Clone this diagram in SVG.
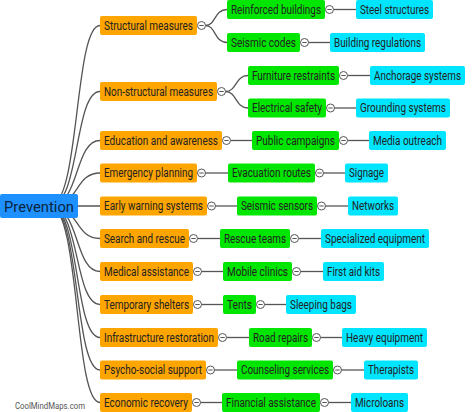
<svg xmlns="http://www.w3.org/2000/svg" width="474" height="412" viewBox="0 0 474 412">
<style>
text{font-family:Roboto,"Liberation Sans",sans-serif;font-size:12px;fill:#222;}
.r0{fill:#1E90FF;}
.r1{fill:#FFA500;}
.r2{fill:#00E600;}
.r3{fill:#00E5FF;}
.ln{fill:none;stroke:#555;stroke-width:1.3;}
.cc{fill:#fff;stroke:#555;stroke-width:1;}
.mn{stroke:#555;stroke-width:1;}
.root{font-size:15px;fill:#0a2540;}
.wm{font-size:9.5px;fill:#555;}
</style>
<defs>
<g id="col"><circle class="cc" r="4"/><line class="mn" x1="-2.2" y1="0" x2="2.2" y2="0"/></g>
</defs>
<g id="connectors">
<path class="ln" d="M50 206C80 206 74 25.5 100 25.5"/>
<path class="ln" d="M50 206C80 206 74 91.5 100 91.5"/>
<path class="ln" d="M50 206C80 206 74 140.5 100 140.5"/>
<path class="ln" d="M50 206C80 206 74 173 100 173"/>
<path class="ln" d="M50 206L100 206"/>
<path class="ln" d="M50 206C80 206 74 238.5 100 238.5"/>
<path class="ln" d="M50 206C80 206 74 271.5 100 271.5"/>
<path class="ln" d="M50 206C80 206 74 304.5 100 304.5"/>
<path class="ln" d="M50 206C80 206 74 337.5 100 337.5"/>
<path class="ln" d="M50 206C80 206 74 370 100 370"/>
<path class="ln" d="M50 206C80 206 74 402.5 100 402.5"/>
<path class="ln" d="M205.5 25.5C216 25.5 214 9.5 227 9.5"/>
<path class="ln" d="M205.5 25.5C216 25.5 214 42.5 227 42.5"/>
<path class="ln" d="M225.5 91.5C237 91.5 235 75.5 248 75.5"/>
<path class="ln" d="M225.5 91.5C237 91.5 235 108 248 108"/>
<path class="ln" d="M230.5 140.5H252"/>
<path class="ln" d="M205.5 173H228"/>
<path class="ln" d="M215.5 206H237"/>
<path class="ln" d="M197.5 238.5H220"/>
<path class="ln" d="M201.5 271.5H223"/>
<path class="ln" d="M201.5 304.5H223"/>
<path class="ln" d="M226.5 337.5H249"/>
<path class="ln" d="M214.5 370H237"/>
<path class="ln" d="M200.5 402.5H222"/>
<path class="ln" d="M333.5 9.5H356"/>
<path class="ln" d="M308.5 42.5H330"/>
<path class="ln" d="M347.5 75.5H370"/>
<path class="ln" d="M334.5 108H356"/>
<path class="ln" d="M347.5 140.5H369"/>
<path class="ln" d="M323.5 173H345"/>
<path class="ln" d="M325.5 206H348"/>
<path class="ln" d="M298.5 238.5H321"/>
<path class="ln" d="M300.5 271.5H323"/>
<path class="ln" d="M264.5 304.5H286"/>
<path class="ln" d="M320.5 337.5H342"/>
<path class="ln" d="M341.5 370H364"/>
<path class="ln" d="M328.5 402.5H351"/>
</g>
<g id="root"><rect class="r0" x="0" y="194" width="78" height="24" rx="2"/><text class="root" x="4" y="211.5" textLength="70" lengthAdjust="spacingAndGlyphs">Prevention</text></g>

<g id="n-structural"><rect class="r1" x="100" y="16" width="97" height="19" rx="2"/><text x="104" y="29.7" textLength="89" lengthAdjust="spacingAndGlyphs">Structural measures</text><use href="#col" x="201.5" y="25.5"/></g>
<g id="n-nonstructural"><rect class="r1" x="100" y="82" width="117" height="19" rx="2"/><text x="104" y="95.7" textLength="109" lengthAdjust="spacingAndGlyphs">Non-structural measures</text><use href="#col" x="221.5" y="91.5"/></g>
<g id="n-education"><rect class="r1" x="100" y="131" width="122" height="19" rx="2"/><text x="104" y="144.7" textLength="114" lengthAdjust="spacingAndGlyphs">Education and awareness</text><use href="#col" x="226.5" y="140.5"/></g>
<g id="n-emergency"><rect class="r1" x="100" y="163.5" width="97" height="19" rx="2"/><text x="104" y="177.2" textLength="89" lengthAdjust="spacingAndGlyphs">Emergency planning</text><use href="#col" x="201.5" y="173"/></g>
<g id="n-earlywarning"><rect class="r1" x="100" y="196.5" width="107" height="19" rx="2"/><text x="104" y="210.2" textLength="99" lengthAdjust="spacingAndGlyphs">Early warning systems</text><use href="#col" x="211.5" y="206"/></g>
<g id="n-search"><rect class="r1" x="100" y="229" width="89" height="19" rx="2"/><text x="104" y="242.7" textLength="81" lengthAdjust="spacingAndGlyphs">Search and rescue</text><use href="#col" x="193.5" y="238.5"/></g>
<g id="n-medical"><rect class="r1" x="100" y="262" width="93" height="19" rx="2"/><text x="104" y="275.7" textLength="85" lengthAdjust="spacingAndGlyphs">Medical assistance</text><use href="#col" x="197.5" y="271.5"/></g>
<g id="n-temporary"><rect class="r1" x="100" y="295" width="93" height="19" rx="2"/><text x="104" y="308.7" textLength="85" lengthAdjust="spacingAndGlyphs">Temporary shelters</text><use href="#col" x="197.5" y="304.5"/></g>
<g id="n-infrastructure"><rect class="r1" x="100" y="328" width="118" height="19" rx="2"/><text x="104" y="341.7" textLength="110" lengthAdjust="spacingAndGlyphs">Infrastructure restoration</text><use href="#col" x="222.5" y="337.5"/></g>
<g id="n-psycho"><rect class="r1" x="100" y="360.5" width="106" height="19" rx="2"/><text x="104" y="374.2" textLength="98" lengthAdjust="spacingAndGlyphs">Psycho-social support</text><use href="#col" x="210.5" y="370"/></g>
<g id="n-economic"><rect class="r1" x="100" y="393" width="92" height="19" rx="2"/><text x="104" y="406.7" textLength="84" lengthAdjust="spacingAndGlyphs">Economic recovery</text><use href="#col" x="196.5" y="402.5"/></g>

<g id="n-reinforced"><rect class="r2" x="227" y="0" width="98" height="19" rx="2"/><text x="231" y="13.7" textLength="90" lengthAdjust="spacingAndGlyphs">Reinforced buildings</text><use href="#col" x="329.5" y="9.5"/></g>
<g id="n-seismiccodes"><rect class="r2" x="227" y="33" width="73" height="19" rx="2"/><text x="231" y="46.7" textLength="65" lengthAdjust="spacingAndGlyphs">Seismic codes</text><use href="#col" x="304.5" y="42.5"/></g>
<g id="n-furniture"><rect class="r2" x="248" y="66" width="91" height="19" rx="2"/><text x="252" y="79.7" textLength="83" lengthAdjust="spacingAndGlyphs">Furniture restraints</text><use href="#col" x="343.5" y="75.5"/></g>
<g id="n-electrical"><rect class="r2" x="248" y="98.5" width="78" height="19" rx="2"/><text x="252" y="112.2" textLength="70" lengthAdjust="spacingAndGlyphs">Electrical safety</text><use href="#col" x="330.5" y="108"/></g>
<g id="n-public"><rect class="r2" x="252" y="131" width="87" height="19" rx="2"/><text x="256" y="144.7" textLength="79" lengthAdjust="spacingAndGlyphs">Public campaigns</text><use href="#col" x="343.5" y="140.5"/></g>
<g id="n-evacuation"><rect class="r2" x="228" y="163.5" width="87" height="19" rx="2"/><text x="232" y="177.2" textLength="79" lengthAdjust="spacingAndGlyphs">Evacuation routes</text><use href="#col" x="319.5" y="173"/></g>
<g id="n-sensors"><rect class="r2" x="237" y="196.5" width="80" height="19" rx="2"/><text x="241" y="210.2" textLength="72" lengthAdjust="spacingAndGlyphs">Seismic sensors</text><use href="#col" x="321.5" y="206"/></g>
<g id="n-rescue"><rect class="r2" x="220" y="229" width="70" height="19" rx="2"/><text x="224" y="242.7" textLength="62" lengthAdjust="spacingAndGlyphs">Rescue teams</text><use href="#col" x="294.5" y="238.5"/></g>
<g id="n-mobile"><rect class="r2" x="223" y="262" width="69" height="19" rx="2"/><text x="227" y="275.7" textLength="61" lengthAdjust="spacingAndGlyphs">Mobile clinics</text><use href="#col" x="296.5" y="271.5"/></g>
<g id="n-tents"><rect class="r2" x="223" y="295" width="33" height="19" rx="2"/><text x="227" y="308.7" textLength="25" lengthAdjust="spacingAndGlyphs">Tents</text><use href="#col" x="260.5" y="304.5"/></g>
<g id="n-road"><rect class="r2" x="249" y="328" width="63" height="19" rx="2"/><text x="253" y="341.7" textLength="55" lengthAdjust="spacingAndGlyphs">Road repairs</text><use href="#col" x="316.5" y="337.5"/></g>
<g id="n-counseling"><rect class="r2" x="237" y="360.5" width="96" height="19" rx="2"/><text x="241" y="374.2" textLength="88" lengthAdjust="spacingAndGlyphs">Counseling services</text><use href="#col" x="337.5" y="370"/></g>
<g id="n-financial"><rect class="r2" x="222" y="393" width="98" height="19" rx="2"/><text x="226" y="406.7" textLength="90" lengthAdjust="spacingAndGlyphs">Financial assistance</text><use href="#col" x="324.5" y="402.5"/></g>

<g id="n-steel"><rect class="r3" x="356" y="0" width="77" height="19" rx="2"/><text x="360" y="13.7" textLength="69" lengthAdjust="spacingAndGlyphs">Steel structures</text></g>
<g id="n-building"><rect class="r3" x="330" y="33" width="95" height="19" rx="2"/><text x="334" y="46.7" textLength="87" lengthAdjust="spacingAndGlyphs">Building regulations</text></g>
<g id="n-anchorage"><rect class="r3" x="370" y="66" width="95" height="19" rx="2"/><text x="374" y="79.7" textLength="87" lengthAdjust="spacingAndGlyphs">Anchorage systems</text></g>
<g id="n-grounding"><rect class="r3" x="356" y="98.5" width="94" height="19" rx="2"/><text x="360" y="112.2" textLength="86" lengthAdjust="spacingAndGlyphs">Grounding systems</text></g>
<g id="n-media"><rect class="r3" x="369" y="131" width="77" height="19" rx="2"/><text x="373" y="144.7" textLength="69" lengthAdjust="spacingAndGlyphs">Media outreach</text></g>
<g id="n-signage"><rect class="r3" x="345" y="163.5" width="43" height="19" rx="2"/><text x="349" y="177.2" textLength="35" lengthAdjust="spacingAndGlyphs">Signage</text></g>
<g id="n-networks"><rect class="r3" x="348" y="196.5" width="50" height="19" rx="2"/><text x="352" y="210.2" textLength="42" lengthAdjust="spacingAndGlyphs">Networks</text></g>
<g id="n-specialized"><rect class="r3" x="321" y="229" width="108" height="19" rx="2"/><text x="325" y="242.7" textLength="100" lengthAdjust="spacingAndGlyphs">Specialized equipment</text></g>
<g id="n-firstaid"><rect class="r3" x="323" y="262" width="61" height="19" rx="2"/><text x="327" y="275.7" textLength="53" lengthAdjust="spacingAndGlyphs">First aid kits</text></g>
<g id="n-sleeping"><rect class="r3" x="286" y="295" width="70" height="19" rx="2"/><text x="290" y="308.7" textLength="62" lengthAdjust="spacingAndGlyphs">Sleeping bags</text></g>
<g id="n-heavy"><rect class="r3" x="342" y="328" width="85" height="19" rx="2"/><text x="346" y="341.7" textLength="77" lengthAdjust="spacingAndGlyphs">Heavy equipment</text></g>
<g id="n-therapists"><rect class="r3" x="364" y="360.5" width="54" height="19" rx="2"/><text x="368" y="374.2" textLength="46" lengthAdjust="spacingAndGlyphs">Therapists</text></g>
<g id="n-microloans"><rect class="r3" x="351" y="393" width="57" height="19" rx="2"/><text x="355" y="406.7" textLength="49" lengthAdjust="spacingAndGlyphs">Microloans</text></g>

<text class="wm" x="15" y="409" textLength="70" lengthAdjust="spacingAndGlyphs">CoolMindMaps.com</text>
</svg>
